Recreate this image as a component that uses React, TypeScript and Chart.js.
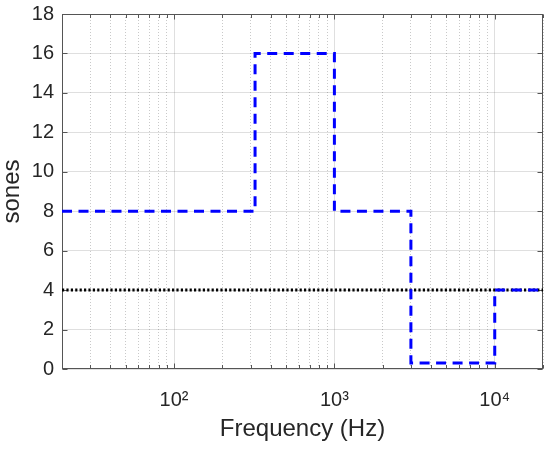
import React, { useEffect, useRef } from 'react';
import { Chart, registerables } from 'chart.js';

Chart.register(...registerables);

// ---- data ----
const STEP_FREQS = [20, 320, 1000, 3000, 10000, 20000];
const STEP_SONES = [8, 16, 8, 0.3, 4, 4];
const REF_FREQS = [20, 20000];
const REF_SONES = [4, 4];

// ---- axes ----
const X_TICKS = [
  20, 30, 40, 50, 60, 70, 80, 90,
  100, 200, 300, 400, 500, 600, 700, 800, 900,
  1000, 2000, 3000, 4000, 5000, 6000, 7000, 8000, 9000,
  10000, 20000,
];
const X_MAJOR = [100, 1000, 10000];
const X_LABELS = ['10²', '10³', '10⁴'];
const Y_MIN = 0;
const Y_MAX = 18;
const Y_STEP = 2;

const FONT = "'Liberation Sans', Arial, Helvetica, sans-serif";
const AXIS_COLOR = '#262626';
const FRAME_COLOR = '#555555';
const MAJOR_GRID = 'rgba(38,38,38,0.15)';
const MINOR_GRID = 'rgba(38,38,38,0.25)';

const zeroPad = (scale: any) => {
  scale.paddingLeft = 0;
  scale.paddingRight = 0;
  scale.paddingTop = 0;
  scale.paddingBottom = 0;
};

const framePlugin = {
  id: 'frameTicks',
  beforeDatasetsDraw(chart: any) {
    const { ctx, chartArea: a, scales } = chart;
    const x = scales.x;
    const y = scales.y;
    const L = Math.round(a.left) + 0.5;
    const R = Math.round(a.right) - 0.5;
    const T = Math.round(a.top) + 0.5;
    const B = Math.round(a.bottom) - 0.5;
    const len = 5;
    ctx.save();
    ctx.strokeStyle = FRAME_COLOR;
    ctx.lineWidth = 1;
    ctx.setLineDash([]);
    ctx.beginPath();
    for (const v of X_TICKS) {
      const px = Math.round(x.getPixelForValue(v)) + 0.5;
      const l = X_MAJOR.includes(v) ? len : 3.5;
      ctx.moveTo(px, B);
      ctx.lineTo(px, B - l);
      ctx.moveTo(px, T);
      ctx.lineTo(px, T + l);
    }
    for (let v = Y_MIN; v <= Y_MAX; v += Y_STEP) {
      const py = Math.round(y.getPixelForValue(v)) + 0.5;
      ctx.moveTo(L, py);
      ctx.lineTo(L + len, py);
      ctx.moveTo(R, py);
      ctx.lineTo(R - len, py);
    }
    ctx.stroke();
    ctx.strokeRect(L, T, R - L, B - T);
    ctx.restore();
  },
};

export default function App() {
  const ref = useRef<HTMLCanvasElement | null>(null);

  useEffect(() => {
    if (!ref.current) return;
    const chart = new Chart(ref.current, {
      type: 'line',
      data: {
        datasets: [
          {
            label: 'Loudness',
            data: STEP_FREQS.map((f, i) => ({ x: f, y: STEP_SONES[i] })),
            borderColor: '#0000ff',
            borderWidth: 3,
            borderDash: [10, 6.5],
            stepped: true,
            pointRadius: 0,
            fill: false,
          },
          {
            label: 'Reference',
            data: REF_FREQS.map((f, i) => ({ x: f, y: REF_SONES[i] })),
            borderColor: '#000000',
            borderWidth: 3,
            borderDash: [2.2, 2.2],
            pointRadius: 0,
            fill: false,
          },
        ],
      },
      options: {
        animation: false,
        responsive: false,
        maintainAspectRatio: false,
        devicePixelRatio: 1,
        layout: { padding: { left: 0, top: 14, right: 7, bottom: 0 } },
        plugins: {
          legend: { display: false },
          tooltip: { enabled: false },
        },
        scales: {
          x: {
            type: 'logarithmic',
            min: 20,
            max: 20000,
            afterBuildTicks: (scale: any) => {
              scale.ticks = X_TICKS.map((v) => ({ value: v }));
            },
            afterFit: (scale: any) => {
              scale.height = 81;
              zeroPad(scale);
            },
            ticks: {
              autoSkip: false,
              maxRotation: 0,
              minRotation: 0,
              padding: 19,
              color: AXIS_COLOR,
              font: { family: FONT, size: 20 },
              callback: (v: any) => {
                const i = X_MAJOR.indexOf(Number(v));
                return i >= 0 ? X_LABELS[i] : '';
              },
            },
            grid: {
              drawTicks: false,
              lineWidth: 1,
              color: (c: any) =>
                c.tick && X_MAJOR.includes(c.tick.value) ? MAJOR_GRID : MINOR_GRID,
            },
            border: {
              display: false,
              dash: (c: any) =>
                c.tick && X_MAJOR.includes(c.tick.value) ? [] : [1, 2],
            },
            title: {
              display: true,
              text: 'Frequency (Hz)',
              color: AXIS_COLOR,
              font: { family: FONT, size: 24 },
              padding: { top: 0, bottom: 6 },
            },
          },
          y: {
            type: 'linear',
            min: Y_MIN,
            max: Y_MAX,
            afterFit: (scale: any) => {
              scale.width = 62;
              zeroPad(scale);
            },
            ticks: {
              stepSize: Y_STEP,
              padding: 8,
              color: AXIS_COLOR,
              font: { family: FONT, size: 20 },
            },
            grid: {
              drawTicks: false,
              lineWidth: 1,
              color: MAJOR_GRID,
            },
            border: { display: false },
            title: {
              display: true,
              text: 'sones',
              color: AXIS_COLOR,
              font: { family: FONT, size: 24, lineHeight: 1 },
              padding: { top: 0, bottom: 0 },
            },
          },
        },
      },
      plugins: [framePlugin],
    } as any);
    return () => chart.destroy();
  }, []);

  return (
    <div style={{ position: 'absolute', left: 0, top: 0, width: 550, height: 450, background: '#fff' }}>
      <canvas ref={ref} width={550} height={450} style={{ display: 'block' }} />
    </div>
  );
}
